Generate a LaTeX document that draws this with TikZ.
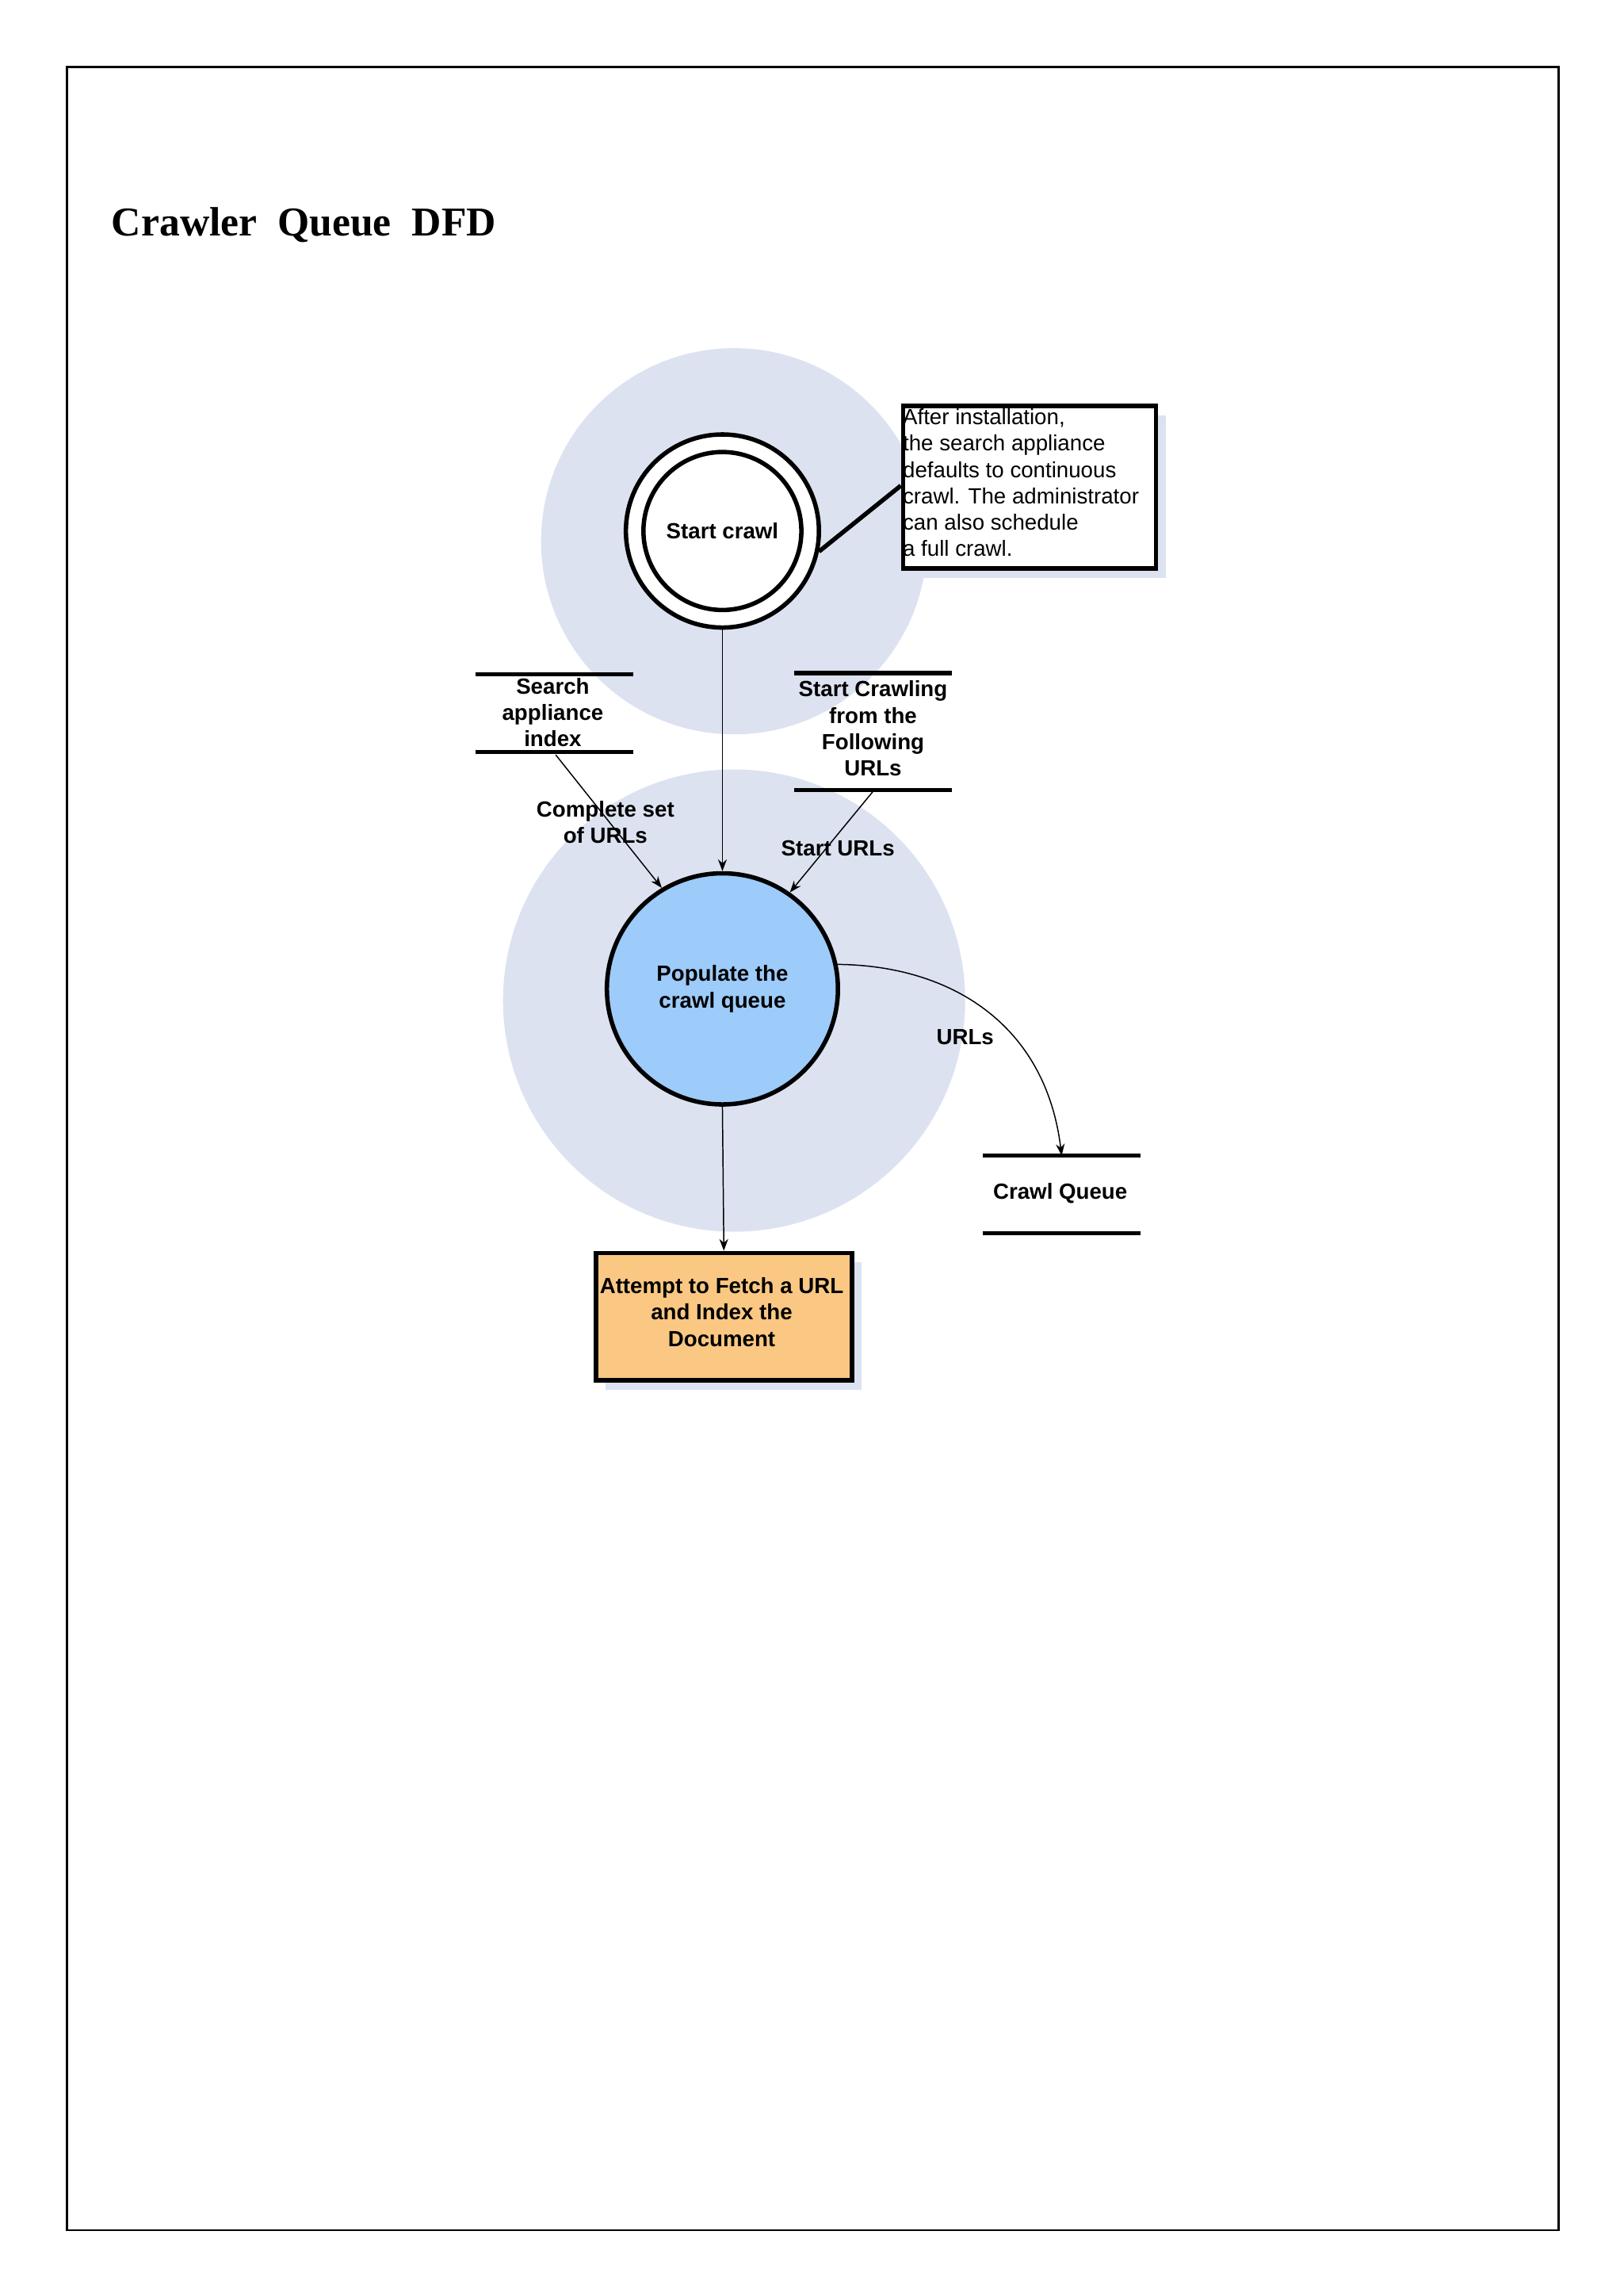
\documentclass[tikz,border=0pt]{standalone}
\usepackage{fontspec}
\setmainfont{Liberation Sans}
\newfontfamily\titlefont{Liberation Serif}
\usetikzlibrary{arrows.meta}
\definecolor{shad}{HTML}{DCE2F0}
\definecolor{blueproc}{HTML}{9DCBFA}
\definecolor{orangeb}{HTML}{FAC882}
\begin{document}
\begin{tikzpicture}[x=0.5pt,y=-0.5pt,
  txt/.style={font=\fontsize{7.5}{9}\selectfont\bfseries, align=center, inner sep=0},
  flow/.style={-{Stealth[length=4pt,width=3pt]}, thin},
  storeline/.style={line width=1.5pt}]
\useasboundingbox (0,0) rectangle (1110,1569.6);
\fill[white] (0,0) rectangle (1110,1569.6);
\node (frame) [draw, line width=0.7pt, minimum width=510pt, minimum height=739.5pt, anchor=north west, inner sep=0] at (45,45) {};
\node (title) [anchor=base west, font=\titlefont\fontsize{14}{16}\selectfont\bfseries, inner sep=0] at (76,161) {Crawler\ \ Queue\ \ DFD};
% shadows
\fill[shad] (502,370) circle (66pt*0.5*2);
\fill[shad] (624,284) rectangle (797,395);
\fill[shad] (502,684) circle (79pt);
\fill[shad] (414,863) rectangle (589,950);
% start crawl
\node (sc) [circle, draw, line width=1.5pt, fill=white, minimum size=132*0.5pt] at (494,363) {};
\node (sci) [circle, draw, line width=1.5pt, minimum size=108*0.5pt, txt] at (494,363) {Start crawl};
% note
\node (note) [draw, line width=1.5pt, fill=white, anchor=north west, minimum width=86.5pt, minimum height=55.5pt, inner sep=0] at (616,276) {};
\node (notet) [anchor=north west, font=\fontsize{7.5}{9}\selectfont, align=left, inner sep=0] at (617,279) {After installation,\\the search appliance\\defaults to continuous\\crawl. The administrator\\can also schedule\\a full crawl.};
\coordinate (nl) at (616,332);
\draw[line width=1.5pt] (sc.-12) -- (nl);
% process
\node (pop) [circle, draw, line width=1.5pt, fill=blueproc, minimum size=79pt, txt] at (494,676) {Populate the\\crawl queue};
% attempt
\node (att) [draw, line width=1.5pt, fill=orangeb, anchor=north west, minimum width=87.5pt, minimum height=43.5pt, inner sep=0] at (406,855) {};
\node (attt) [txt] at (493.5,897) {Attempt to Fetch a URL\\and Index the\\Document};
% stores
\draw[storeline] (325,461) -- (433,461) (325,514) -- (433,514);
\node (sai) [txt] at (378,487) {Search\\appliance\\index};
\draw[storeline] (543,460) -- (651,460) (543,540) -- (651,540);
\node (scf) [txt] at (597,498) {Start Crawling\\from the\\Following\\URLs};
\draw[storeline] (672,790) -- (780,790) (672,843) -- (780,843);
\node (cq) [txt] at (725,816) {Crawl Queue};
% flows
\coordinate (saib) at (380,516);
\coordinate (scfb) at (597,541);
\coordinate (cqt) at (726,790);
\draw[flow] (sc.south) -- (pop.north);
\draw[flow] (saib) -- (pop.121);
\node [txt] at (414,562) {Complete set\\of URLs};
\draw[flow] (scfb) -- (pop.55);
\node [txt] at (573,580) {Start URLs};
\draw[flow] (pop.12) .. controls (650,660) and (715,700) .. (cqt);
\node [txt] at (660,709) {URLs};
\draw[flow] (pop.south) -- (att.north);
\end{tikzpicture}
\end{document}
